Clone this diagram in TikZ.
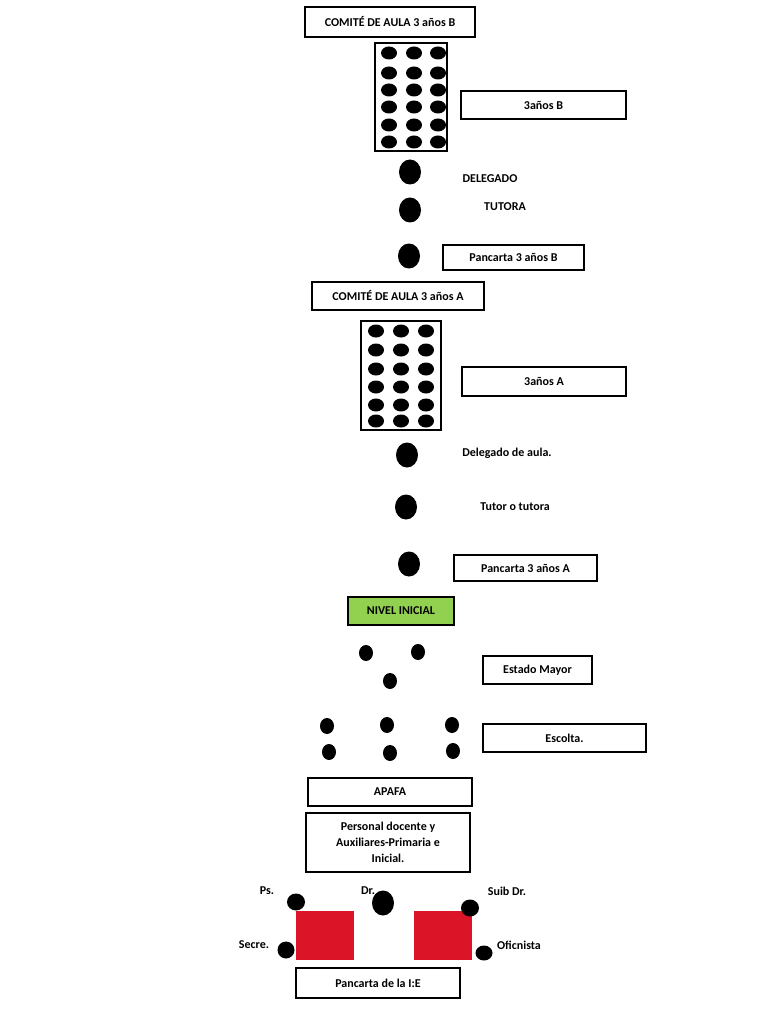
\documentclass[tikz,border=0pt]{standalone}
\usepackage{fontspec}
\setmainfont{Carlito}
\usetikzlibrary{calc}
\definecolor{nivelgreen}{RGB}{146,208,80}
\definecolor{mesared}{RGB}{220,20,40}
\tikzstyle{box} = [rectangle, draw=black, line width=1.2pt, inner sep=0pt, font=\bfseries\fontsize{12}{14}\selectfont]
\tikzstyle{lbl} = [font=\bfseries\fontsize{12}{14}\selectfont, inner sep=0pt]
\tikzstyle{dot} = [ellipse, fill=black, inner sep=0pt, minimum width=16pt, minimum height=13pt]
\tikzstyle{bigdot} = [ellipse, fill=black, inner sep=0pt, minimum width=22pt, minimum height=25pt]
\tikzstyle{smalldot} = [ellipse, fill=black, inner sep=0pt, minimum width=14pt, minimum height=16pt]
\usetikzlibrary{shapes.geometric}
\begin{document}
\begin{tikzpicture}[x=1pt,y=-1pt]
\useasboundingbox (0,0) rectangle (768,1024);

% 3 años B
\node(comiteB)[box,minimum width=170pt,minimum height=30pt] at (390,22) {COMITÉ DE AULA 3 años B};
\draw[line width=1.2pt] (375,43) rectangle (447,151);
\foreach \y in {53,73,90,107,125,142}
  \foreach \x in {389,414,438}
    \node[dot] at (\x,\y) {};
\node(aulaB)[box,minimum width=165pt,minimum height=28pt] at (543.5,105) {3años B};
\node(delB)[bigdot] at (410,172) {};
\node(tutB)[bigdot] at (410,210) {};
\node(panB)[bigdot] at (409,256) {};
\node[lbl] at (490,179) {DELEGADO};
\node[lbl] at (505,207) {TUTORA};
\node(pancartaB)[box,minimum width=141pt,minimum height=25pt] at (513.5,257.5) {Pancarta 3 años B};

% 3 años A
\node(comiteA)[box,minimum width=172pt,minimum height=28pt] at (398,296) {COMITÉ DE AULA 3 años A};
\draw[line width=1.2pt] (361,321) rectangle (441,430);
\foreach \y in {331,350,369,387,405,421}
  \foreach \x in {376,401,426}
    \node[dot] at (\x,\y) {};
\node(aulaA)[box,minimum width=164pt,minimum height=29pt] at (544,381.5) {3años A};
\node(delA)[bigdot] at (407,455) {};
\node(tutA)[bigdot] at (406,507) {};
\node(panA)[bigdot] at (409,564) {};
\node[lbl] at (507,453) {Delegado de aula.};
\node[lbl] at (515,507) {Tutor o tutora};
\node(pancartaA)[box,minimum width=143pt,minimum height=26pt] at (525.5,568) {Pancarta 3 años A};

% nivel inicial
\node(nivel)[box,fill=nivelgreen,minimum width=106pt,minimum height=28pt] at (401,611) {NIVEL INICIAL};
\node[smalldot] at (366,653) {};
\node[smalldot] at (418,652) {};
\node[smalldot] at (390,681) {};
\node(estado)[box,minimum width=109pt,minimum height=28pt] at (537.5,670) {Estado Mayor};
\foreach \x/\y in {327/726,387/725,452/725,329/752,390/753,453/751}
  \node[smalldot] at (\x,\y) {};
\node(escolta)[box,minimum width=163pt,minimum height=28pt] at (564.5,738) {Escolta.};

% apafa y personal
\node(apafa)[box,minimum width=164pt,minimum height=28pt] at (390,792) {APAFA};
\node(personal)[box,minimum width=164pt,minimum height=59pt,align=center] at (388,842.5) {Personal docente y\\[2pt]Auxiliares-Primaria e\\[2pt]Inicial.};

% mesa
\node[lbl] at (267,891) {Ps.};
\node[lbl] at (368,891) {Dr.};
\node[lbl] at (507,891) {Suib Dr.};
\node[lbl] at (254,945) {Secre.};
\node[lbl] at (519,945) {Oficnista};
\fill[mesared] (296,911) rectangle (354,960);
\fill[mesared] (414,911) rectangle (472,960);
\node[smalldot,minimum width=18pt,minimum height=17pt] at (296,902) {};
\node[bigdot] at (383,903) {};
\node[smalldot,minimum width=18pt,minimum height=17pt] at (470,908) {};
\node[smalldot,minimum width=17pt,minimum height=17pt] at (286,950) {};
\node[smalldot,minimum width=17pt,minimum height=15pt] at (484,953) {};
\node(pancartaIE)[box,minimum width=164pt,minimum height=30pt] at (378,983) {Pancarta de la I:E};
\end{tikzpicture}
\end{document}
